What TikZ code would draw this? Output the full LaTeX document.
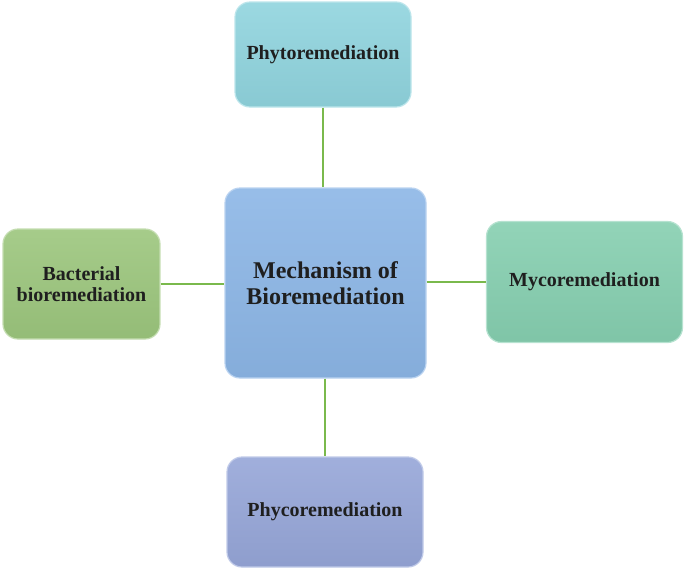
\documentclass[tikz,border=0pt]{standalone}
\usepackage{fontspec}
\setmainfont{Liberation Serif}
\usepackage{tikz}
\usetikzlibrary{positioning,calc}
\usepackage{xcolor}
\definecolor{cphy}{HTML}{90D4DE}
\definecolor{cmech}{HTML}{8CB6E6}
\definecolor{cbac}{HTML}{9CC67D}
\definecolor{cmyc}{HTML}{86CFB0}
\definecolor{cphc}{HTML}{96A6D8}
\definecolor{clink}{HTML}{7AB94C}

\begin{document}
\begin{tikzpicture}[
  x=1pt,y=-1pt,
  box/.style={rectangle,rounded corners=15pt,draw=#1!60!white,line width=1.2pt,
    top color=#1!90!white,bottom color=#1!95!black,
    inner sep=2pt,font=\fontsize{20}{21}\selectfont\bfseries,align=center,text=black!88},
  link/.style={draw=clink,line width=2pt}
]
  \useasboundingbox (0,0) rectangle (685,568);

  % Centre box
  \node[box=cmech,minimum width=201pt,minimum height=190pt,
        font=\fontsize{24}{26}\selectfont\bfseries] (mech) at (325.5,283) {Mechanism of\\Bioremediation};

  % Four satellites
  \node[box=cphy,minimum width=176pt,minimum height=105pt] (phyto) at (323,54.5) {Phytoremediation};
  \node[box=cbac,minimum width=157pt,minimum height=110pt] (bact)  at (81.5,284) {Bacterial\\bioremediation};
  \node[box=cmyc,minimum width=196pt,minimum height=121pt] (myco)  at (584.5,282) {Mycoremediation};
  \node[box=cphc,minimum width=196pt,minimum height=110pt] (phyco) at (325,512) {Phycoremediation};

  % Links
  \draw[link] (phyto.south) -- (phyto.south |- mech.north);
  \draw[link] (bact.east) -- (bact.east -| mech.west);
  \draw[link] (mech.east |- myco.west) -- (myco.west);
  \draw[link] (phyco.north |- mech.south) -- (phyco.north);
\end{tikzpicture}
\end{document}
